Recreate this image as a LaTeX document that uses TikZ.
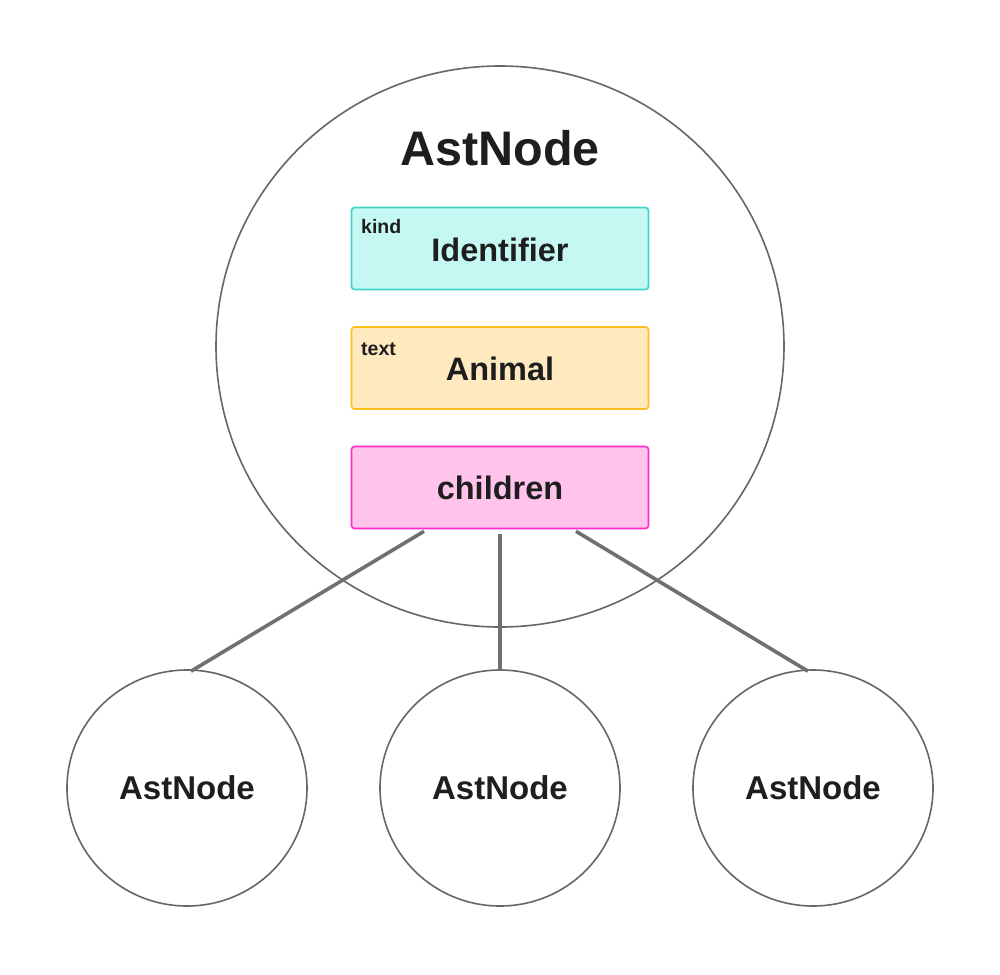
\documentclass[tikz,border=0pt]{standalone}
\usepackage{fontspec}
\setmainfont{Liberation Sans}
\usetikzlibrary{shapes.geometric}
\definecolor{txt}{HTML}{1E1E1E}
\definecolor{ring}{HTML}{666666}
\definecolor{wire}{HTML}{707070}
\definecolor{cyanfill}{HTML}{C6F8F3}
\definecolor{cyanline}{HTML}{3FD4C4}
\definecolor{yelfill}{HTML}{FFEABF}
\definecolor{yelline}{HTML}{FFC01E}
\definecolor{pinkfill}{HTML}{FFC3EC}
\definecolor{pinkline}{HTML}{FF2CC8}
\tikzset{
  bigring/.style={ellipse, draw=ring, line width=1.6pt, minimum width=568pt, minimum height=561pt, inner sep=0pt},
  smallring/.style={ellipse, draw=ring, line width=1.6pt, minimum width=240pt, minimum height=236pt, inner sep=0pt,
     font=\fontsize{33}{36}\selectfont\bfseries, text=txt},
  field/.style={rectangle, rounded corners=3pt, line width=1.6pt, minimum width=297pt, minimum height=82pt, inner sep=0pt},
  fieldtext/.style={anchor=base, font=\fontsize{32.5}{36}\selectfont\bfseries, text=txt, inner sep=0pt},
  tag/.style={anchor=base west, font=\fontsize{19.5}{22}\selectfont\bfseries, text=txt, inner sep=0pt},
  wireline/.style={draw=wire, line width=3.6pt},
}
\begin{document}
\begin{tikzpicture}[x=1pt,y=-1pt]
\useasboundingbox[fill=white] (0,0) rectangle (1000,974);
\node[bigring] (root) at (500,346.5) {};
\node[anchor=base, font=\fontsize{48.5}{52}\selectfont\bfseries, text=txt, inner sep=0pt] (title) at (500,165) {AstNode};

\node[field, fill=cyanfill, draw=cyanline] (kindbox) at (500,248.5) {};
\node[fieldtext] (kindval) at (500,261) {Identifier};
\node[tag] (kindtag) at (361,233) {kind};

\node[field, fill=yelfill, draw=yelline] (textbox) at (500,368) {};
\node[fieldtext] (textval) at (500,380) {Animal};
\node[tag] (texttag) at (361,355) {text};

\node[field, fill=pinkfill, draw=pinkline] (ch) at (500,487.5) {};
\node[fieldtext] (chval) at (500,499.5) {children};

\node[smallring] (c1) at (187,788) {AstNode};
\node[smallring] (c2) at (500,788) {AstNode};
\node[smallring] (c3) at (813,788) {AstNode};

\draw[wireline] ([xshift=-76pt,yshift=-2pt]ch.south) -- ([xshift=4pt,yshift=-2pt]c1.north);
\draw[wireline] ([yshift=-5pt]ch.south) -- ([yshift=-2pt]c2.north);
\draw[wireline] ([xshift=76pt,yshift=-2pt]ch.south) -- ([xshift=-5pt,yshift=-2pt]c3.north);
\end{tikzpicture}
\end{document}
